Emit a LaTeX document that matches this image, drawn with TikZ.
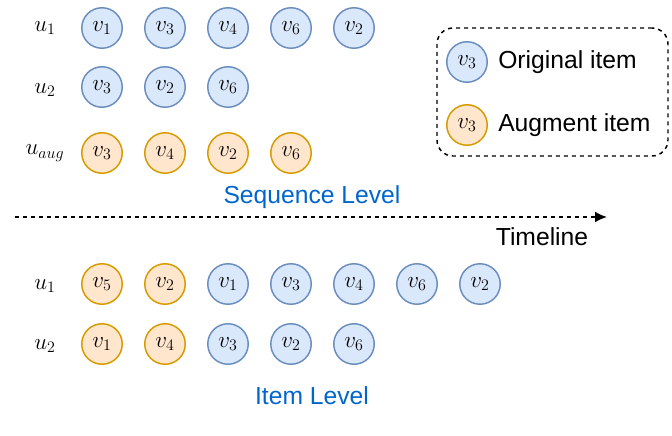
\documentclass[tikz,border=0pt]{standalone}
\usepackage{fontspec}
\setmainfont{Liberation Sans}
\usetikzlibrary{arrows.meta}
\begin{document}
\begin{tikzpicture}[x=0.75pt,y=-0.75pt,font=\fontsize{18.5}{22}\selectfont,
 orig/.style={circle,draw=bstroke,fill=bfill,line width=1.1pt,minimum size=40.5pt*0.75,inner sep=0pt},
 aug/.style={circle,draw=ostroke,fill=ofill,line width=1.1pt,minimum size=40.5pt*0.75,inner sep=0pt},
 lab/.style={inner sep=0pt}]
\definecolor{lvlc}{RGB}{0,102,204}
\definecolor{bfill}{HTML}{DAE8FC}
\definecolor{bstroke}{HTML}{6C8EBF}
\definecolor{ofill}{HTML}{FFE6CC}
\definecolor{ostroke}{HTML}{D79B00}
\useasboundingbox (0,0) rectangle (672,436);
% sequence level
\node[lab] (a1) at (45,28) {$u_1$};
\foreach \v [count=\i] in {1,3,4,6,2} \node[orig] (s1\i) at (39+63*\i,28) {$v_{\v}$};
\node[lab] (a2) at (45,90) {$u_2$};
\foreach \v [count=\i] in {3,2,6} \node[orig] (s2\i) at (39+63*\i,87) {$v_{\v}$};
\node[lab] (a3) at (45,153) {$u_{aug}$};
\foreach \v [count=\i] in {3,4,2,6} \node[aug] (s3\i) at (39+63*\i,153) {$v_{\v}$};
\node[text=lvlc,inner sep=0pt] (sl) at (312,197) {Sequence Level};
% legend
\node[draw,dashed,rounded corners=12pt,line width=1.1pt,minimum width=231pt*0.75,minimum height=128pt*0.75] (leg) at (552.5,92) {};
\node[orig] (lo) at (467,62) {$v_3$};
\node[anchor=west,inner sep=0pt] (lot) at (498,62) {Original item};
\node[aug] (la) at (467,125) {$v_3$};
\node[anchor=west,inner sep=0pt] (lat) at (498,125) {Augment item};
% timeline
\coordinate (t0) at (15,217);
\coordinate (t1) at (607,217);
\draw[dashed,line width=1.3pt,-{Latex[length=12pt*0.75,width=11pt*0.75]}] (t0) -- (t1);
\node[inner sep=0pt] (tl) at (542,237) {Timeline};
% item level
\node[lab] (b1) at (45,286) {$u_1$};
\foreach \v [count=\i] in {5,2} \node[aug] (i1\i) at (39+63*\i,284) {$v_{\v}$};
\foreach \v [count=\i from 3] in {1,3,4,6,2} \node[orig] (i1\i) at (39+63*\i,284) {$v_{\v}$};
\node[lab] (b2) at (45,346) {$u_2$};
\foreach \v [count=\i] in {1,4} \node[aug] (i2\i) at (39+63*\i,344) {$v_{\v}$};
\foreach \v [count=\i from 3] in {3,2,6} \node[orig] (i2\i) at (39+63*\i,344) {$v_{\v}$};
\node[text=lvlc,inner sep=0pt] (il) at (312,396) {Item Level};
\end{tikzpicture}
\end{document}
